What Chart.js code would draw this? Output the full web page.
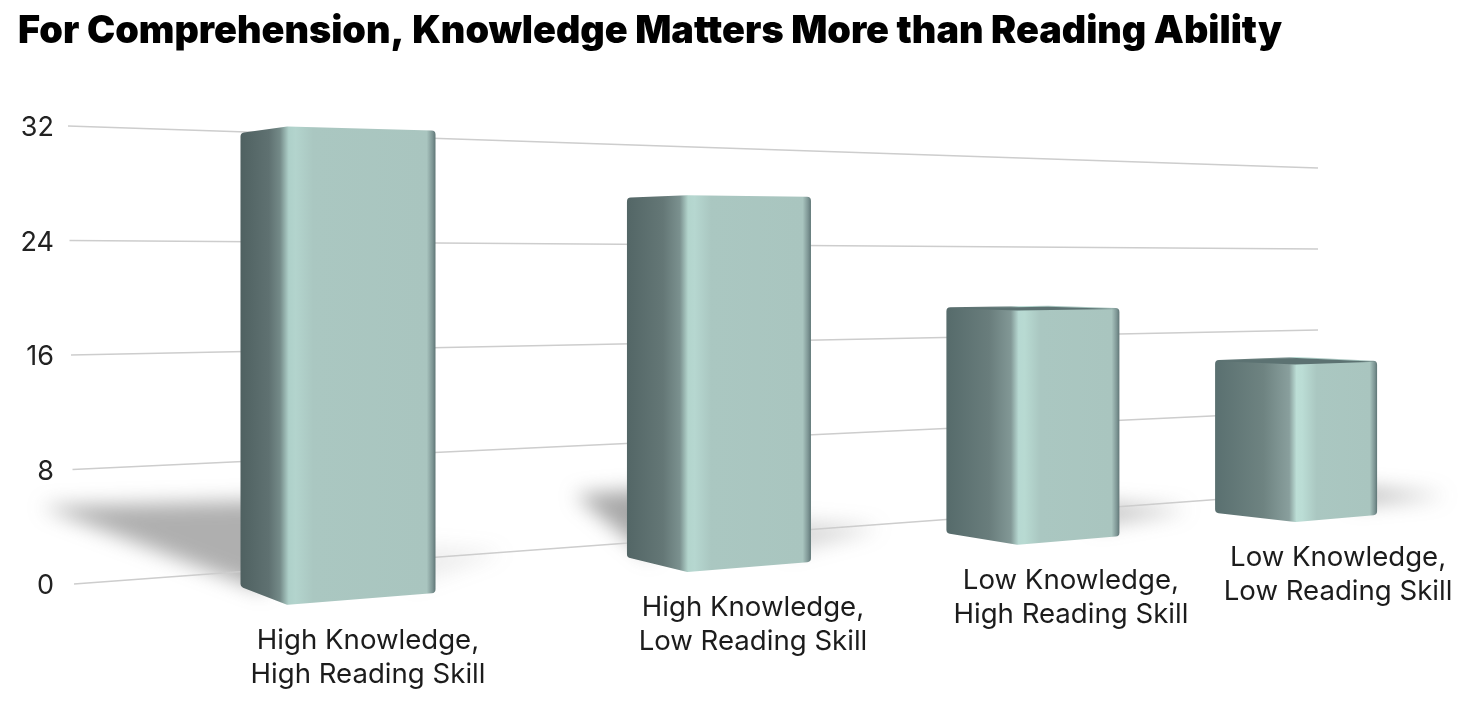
<!DOCTYPE html>
<html>
<head>
<meta charset="utf-8">
<title>For Comprehension, Knowledge Matters More than Reading Ability</title>
<script src="https://cdn.jsdelivr.net/npm/chart.js@4"></script>
<style>
  html, body { margin: 0; padding: 0; background: #fff; }
  canvas { display: block; }
</style>
</head>
<body>
<canvas id="chart" width="1472" height="704"></canvas>
<script>
'use strict';

// --- DATA ---
const chartTitle = 'For Comprehension, Knowledge Matters More than Reading Ability';
const categories = [
    ['High Knowledge,', 'High Reading Skill'],
    ['High Knowledge,', 'Low Reading Skill'],
    ['Low Knowledge,', 'High Reading Skill'],
    ['Low Knowledge,', 'Low Reading Skill']
];
const comprehensionScores = [32, 27.9, 19.1, 14];
const valueTicks = [0, 8, 16, 24, 32];

// --- PERSPECTIVE ---
// t is the position along the x scale (0..1). The y scale itself is the near (left) end of the wall.
const depth = 0.451;
const EYE_LEVEL = 250;
const FRONT_ZOOM = 1.103;

const frontX = t => (1934 * t + 115.3) / (1 + depth * t);
const floorY = t => (119 * t + 624) / (1 + depth * t);
const halfWidth = t => 100.25 - 22 * t;
const cornerShare = t => 0.2 + 0.34 * t;
const leftSlope = t => 0.05 - 0.02 * t;
const rightSlope = t => 0.034 - 0.01 * t;

// grid line end on the far side, from the pixel on the near side
function farY(py, area) {
    return 168 + (py - area.top) * 324 / (area.bottom - area.top);
}

function barGeometry(element, chart) {
    const area = chart.chartArea;
    const t = (element.x - area.left) / (area.right - area.left);
    const mid = frontX(t);
    const half = halfWidth(t);
    const left = mid - half;
    const right = mid + half;
    const corner = left + (right - left) * cornerShare(t);
    const bottom = floorY(t);
    const top = bottom - (element.base - element.y) * FRONT_ZOOM / (1 + depth * t);
    const toEye = (y, k) => y + (EYE_LEVEL - y) * k;
    return {
        t, mid, left, right, corner, bottom, top,
        topLeft: toEye(top, leftSlope(t)),
        topRight: toEye(top, rightSlope(t)),
        bottomLeft: toEye(bottom, leftSlope(t)),
        bottomRight: toEye(bottom, rightSlope(t))
    };
}

function tracePolygon(ctx, points) {
    ctx.beginPath();
    points.forEach(([x, y], i) => (i ? ctx.lineTo(x, y) : ctx.moveTo(x, y)));
    ctx.closePath();
}

// colour between two [r, g, b] values
function mix(a, b, t) {
    return `rgb(${a.map((c, i) => Math.round(c + (b[i] - c) * t)).join(',')})`;
}

function drawShadow(ctx, g) {
    const high = g.bottom - (115 - 85 * g.t);
    const low = g.bottom - 18;
    ctx.save();
    ctx.beginPath();
    ctx.rect(18, 0, 1454, 704);
    ctx.clip();
    ctx.filter = 'blur(10px)';
    // only the two nearer bars throw a shadow to the left
    if (g.t < 0.5) {
        const farLeft = 340 * Math.pow(1 - g.t, 4);
        ctx.fillStyle = `rgba(90, 90, 90, ${0.46 + 0.2 * g.t})`;
        tracePolygon(ctx, [
            [g.left - farLeft, high + 6],
            [g.left + 25, high],
            [g.left + 25, low + 5]
        ]);
        ctx.fill();
    }
    ctx.fillStyle = `rgba(90, 90, 90, ${0.04 + 0.52 * g.t})`;
    tracePolygon(ctx, [
        [g.right - 25, high + (1 - g.t) * 50],
        [g.right + 70, high + 8 + (1 - g.t) * 50],
        [g.right - 25, low]
    ]);
    ctx.fill();
    ctx.restore();
}

function drawBar(ctx, g) {
    const width = g.right - g.left;
    const share = (g.corner - g.left) / width;
    const round = 4;
    const shade = ctx.createLinearGradient(g.left, 0, g.right, 0);
    shade.addColorStop(0, mix([77, 94, 94], [92, 114, 114], g.t));
    shade.addColorStop(share * 0.6, mix([92, 110, 110], [112, 134, 132], g.t));
    shade.addColorStop(Math.max(share - 0.04, 0), mix([112, 134, 132], [140, 163, 160], g.t));
    shade.addColorStop(share + 0.005, mix([172, 206, 199], [190, 224, 216], g.t));
    shade.addColorStop(share + 0.04, mix([178, 211, 204], [188, 222, 214], g.t));
    shade.addColorStop(share + 0.13, '#aac7c1');
    shade.addColorStop(0.955, '#a9c5bf');
    shade.addColorStop(0.985, '#7d9594');
    shade.addColorStop(1, '#5f7676');

    const backY = g.topLeft + g.topRight - g.top;
    const backX = g.left + g.right - g.corner;
    const outline = [[g.left + round, g.topLeft + round]];
    if (backY < g.top) outline.push([backX, backY + round]);
    else outline.push([g.corner, g.top + round]);
    outline.push(
        [g.right - round, g.topRight + round],
        [g.right - round, g.bottomRight - round],
        [g.corner, g.bottom - round],
        [g.left + round, g.bottomLeft - round]
    );

    ctx.save();
    ctx.lineJoin = 'round';
    ctx.lineWidth = round * 2;
    ctx.fillStyle = shade;
    ctx.strokeStyle = shade;
    tracePolygon(ctx, outline);
    ctx.fill();
    ctx.stroke();
    if (backY < g.top) {
        // the top face only shows on bars lower than eye level
        ctx.fillStyle = '#5c7272';
        tracePolygon(ctx, [
            [g.left + 1, g.topLeft + 1],
            [backX, backY + 1],
            [g.right - 1, g.topRight + 1],
            [g.corner, g.top + 1]
        ]);
        ctx.fill();
    }
    ctx.restore();
}

// --- PLUGIN ---
const perspectivePlugin = {
    id: 'perspective',
    beforeDatasetsDraw(chart) {
        const { ctx, chartArea: area, scales: { y } } = chart;
        const bars = chart.getDatasetMeta(0).data.map(el => barGeometry(el, chart));
        bars.forEach(g => drawShadow(ctx, g));
        ctx.save();
        ctx.strokeStyle = '#cdcdcd';
        ctx.lineWidth = 1.7;
        valueTicks.forEach(v => {
            const py = y.getPixelForValue(v);
            const startX = area.left - 2 + 6 * (py - area.top) / (area.bottom - area.top);
            ctx.beginPath();
            ctx.moveTo(startX, py);
            ctx.lineTo(area.right, farY(py, area));
            ctx.stroke();
        });
        ctx.restore();
    },
    beforeDatasetDraw(chart) {
        const { ctx } = chart;
        chart.getDatasetMeta(0).data.forEach(el => drawBar(ctx, barGeometry(el, chart)));
        return false; // skip the flat default bars
    },
    afterDatasetsDraw(chart) {
        const { ctx } = chart;
        ctx.save();
        ctx.font = '27.6px Inter';
        ctx.fillStyle = '#1c1c1c';
        ctx.textAlign = 'center';
        ctx.textBaseline = 'middle';
        chart.getDatasetMeta(0).data.forEach((el, i) => {
            const g = barGeometry(el, chart);
            const labelX = g.mid + 28 + 16 * g.t;
            chart.data.labels[i].forEach((line, n) => {
                ctx.fillText(line, labelX, g.bottom + 36 + n * 34);
            });
        });
        ctx.restore();
    }
};

// --- CHART ---
new Chart(document.getElementById('chart'), {
    type: 'bar',
    data: {
        labels: categories,
        datasets: [{ data: comprehensionScores, backgroundColor: '#a9c6c0' }]
    },
    options: {
        responsive: false,
        animation: false,
        layout: { padding: { left: 18, right: 154, bottom: 120, top: 0 } },
        plugins: {
            legend: { display: false },
            tooltip: { enabled: false },
            title: {
                display: true,
                text: chartTitle,
                align: 'start',
                color: '#000',
                font: { family: 'Inter', size: 37.8, weight: '900', lineHeight: 1.2 },
                padding: { top: 9, bottom: 71.64 }
            }
        },
        scales: {
            x: { display: false },
            y: {
                min: 0,
                max: 32,
                afterFit(scale) { scale.width = 52; },
                afterBuildTicks(scale) { scale.ticks = valueTicks.map(value => ({ value })); },
                grid: { display: false },
                border: { display: false },
                ticks: {
                    padding: 8,
                    labelOffset: 2,
                    color: '#222',
                    font: { family: 'Inter', size: 27 }
                }
            }
        }
    },
    plugins: [perspectivePlugin]
});
</script>
</body>
</html>
